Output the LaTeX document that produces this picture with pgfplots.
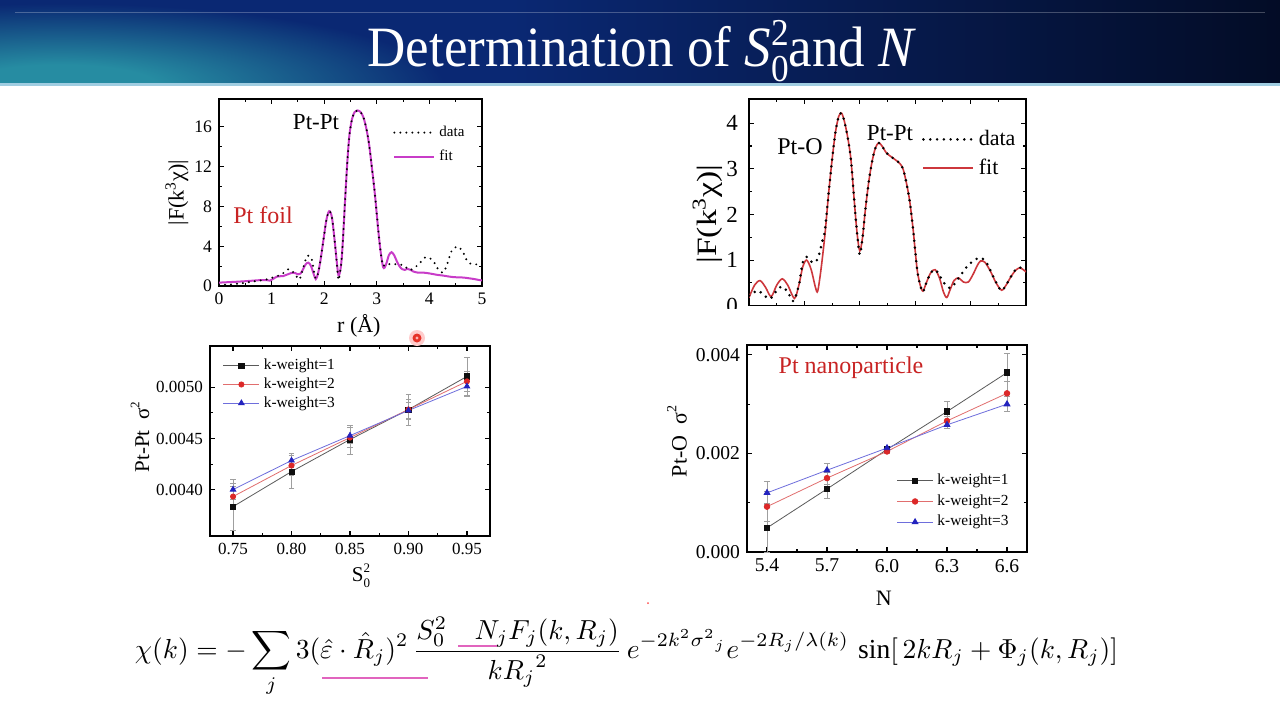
\documentclass[border=0pt]{standalone}
\usepackage{fontspec}
\setmainfont{Liberation Serif}
\usepackage{graphicx}
\usepackage{pgfplots}
\pgfplotsset{compat=1.18}
\definecolor{fitmag}{RGB}{200,60,200}
\definecolor{fitred}{RGB}{205,55,60}
\definecolor{labred}{RGB}{200,35,35}
\definecolor{kblack}{RGB}{15,15,15}
\definecolor{kred}{RGB}{220,40,40}
\definecolor{kblue}{RGB}{35,35,190}
\definecolor{lblack}{RGB}{90,90,90}
\definecolor{lred}{RGB}{225,110,110}
\definecolor{lblue}{RGB}{110,110,220}
\definecolor{pinkline}{RGB}{225,100,190}
\definecolor{bnM}{RGB}{10,40,115}
\definecolor{bnR}{RGB}{3,12,38}
\definecolor{bnTeal}{RGB}{38,140,162}
\definecolor{bnEdge}{RGB}{160,205,225}
\definecolor{ptr}{RGB}{230,50,40}
\pgfdeclarehorizontalshading{bannershade}{100bp}{color(0bp)=(bnM); color(45bp)=(bnM); color(75bp)=(bnR); color(100bp)=(bnR)}
\pgfdeclareradialshading{tealglow}{\pgfpoint{0bp}{0bp}}{color(0bp)=(bnTeal); color(6bp)=(bnTeal); color(24bp)=(bnM); color(50bp)=(bnM)}
\newcommand{\fs}[2]{\fontsize{#1pt}{#2pt}\selectfont}
\pgfplotsset{
  slideaxis/.style={scale only axis, anchor=south west,
    axis line style={line width=0.7pt}, tick align=inside,
    tick style={line width=0.55pt, black}, major tick length=2.4pt, minor tick length=1.4pt,
    tick pos=both, scaled ticks=false, legend cell align=left},
  kleg/.style={legend image code/.code={\draw[mark repeat=2,mark phase=2,##1] plot coordinates {(0pt,0pt) (9pt,0pt) (18pt,0pt)};}},
  errst/.style={error bars/.cd, y dir=both, y explicit,
    error bar style={color=gray!75, line width=0.4pt},
    error mark options={rotate=90, mark size=1.3pt, gray!75, line width=0.4pt}}
}
\begin{document}
\begin{tikzpicture}
\useasboundingbox (0pt,0pt) rectangle (640pt,-360pt);
\begin{scope}[x=0.5pt,y=-0.5pt]
\fill[white] (0,0) rectangle (1280,720);
\shade[shading=bannershade] (0,0) rectangle (1280,85);
\begin{scope}
\clip (0,0) rectangle (1280,85);
\shade[shading=tealglow] (-340,0) rectangle (460,170);
\end{scope}
\draw[white, opacity=0.25, line width=0.4pt] (15,12) -- (1265,12);
\fill[bnEdge] (0,83) rectangle (1280,86);
\node[white, anchor=base, inner sep=0pt, font=\fs{28.5}{30}] at (642,66)
  {\scalebox{0.93}[1]{Determination of \textit{S}\rlap{\raisebox{0.78ex}{\fs{19}{19}2}}\raisebox{-0.6ex}{\fs{19}{19}0}and \textit{N}}};
\end{scope}

% ---------- top left: Pt foil ----------
\begin{axis}[slideaxis, at={(109.5pt,-143pt)}, width=131.5pt, height=93.5pt,
  xmin=0, xmax=5, ymin=0, ymax=18.8,
  xtick={0,1,2,3,4,5}, xticklabels={0,1,2,3,4,5},
  ytick={0,4,8,12,16}, yticklabels={0,4,8,12,16},
  minor x tick num=1, minor y tick num=1,
  ticklabel style={font=\fs{8.8}{10}},
  xlabel={r (Å)}, ylabel={|F(k\textsuperscript{3}χ)|},
  label style={font=\fs{11}{12}},
  xlabel style={at={(axis description cs:0.532,-0.214)}, anchor=center},
  ylabel style={at={(axis description cs:-0.16,0.5)}, anchor=center},
  legend style={at={(0.95,0.88)}, anchor=north east, draw=none, fill=none,
    font=\fs{7.5}{8}, row sep=1.5pt, inner sep=0pt},
  legend image code/.code={\draw[#1] (0pt,0pt) -- (20pt,0pt);}]
\addplot[fitmag, line width=1pt, smooth, forget plot] coordinates {
(0.00,0.34) (0.15,0.38) (0.30,0.42) (0.46,0.47) (0.60,0.52) (0.75,0.58) (0.90,0.60) (0.97,0.54)
(1.03,0.72) (1.10,0.94) (1.16,0.98) (1.22,1.00) (1.27,1.10) (1.32,1.20) (1.37,1.30) (1.41,1.34)
(1.46,1.28) (1.50,1.17) (1.55,1.25) (1.60,1.70) (1.65,2.20) (1.70,2.35) (1.75,2.00) (1.80,1.20)
(1.84,0.70) (1.88,1.20) (1.93,2.60) (1.99,4.80) (2.04,6.60) (2.08,7.40) (2.11,7.50) (2.15,6.80)
(2.20,4.50) (2.24,2.40) (2.27,1.10) (2.30,1.40) (2.33,2.60) (2.36,5.00) (2.40,8.90) (2.44,12.50)
(2.48,15.20) (2.53,16.80) (2.58,17.50) (2.63,17.65) (2.69,17.50) (2.75,16.90) (2.81,15.60)
(2.86,14.00) (2.90,12.20) (2.94,10.40) (2.97,8.90) (3.00,7.20) (3.03,5.50) (3.06,4.00) (3.09,2.80)
(3.12,1.90) (3.15,1.85) (3.19,2.40) (3.23,3.10) (3.28,3.40) (3.33,3.10) (3.38,2.50) (3.43,2.00)
(3.48,1.70) (3.53,1.62) (3.58,1.72) (3.63,1.65) (3.70,1.45) (3.79,1.34) (3.88,1.35) (3.96,1.30)
(4.05,1.22) (4.15,1.12) (4.26,1.05) (4.35,0.97) (4.45,0.90) (4.55,0.87) (4.65,0.85) (4.75,0.78)
(4.85,0.70) (4.95,0.60) (5.00,0.56)};
\addplot[black, line width=1.1pt, dash pattern=on 0pt off 3pt, line cap=round, smooth] coordinates {
(0.00,0.10) (0.20,0.15) (0.46,0.30) (0.70,0.50) (0.90,0.65) (1.05,0.90) (1.16,1.10) (1.25,1.40)
(1.32,1.70) (1.40,1.45) (1.47,1.00) (1.53,0.67) (1.60,1.80) (1.67,3.00) (1.72,2.95) (1.76,2.80)
(1.80,1.60) (1.84,0.75) (1.88,1.20) (1.93,2.60) (1.99,4.80) (2.04,6.60) (2.08,7.40) (2.11,7.50)
(2.15,6.80) (2.20,4.50) (2.24,2.20) (2.27,0.60) (2.30,1.30) (2.33,2.60) (2.36,5.00) (2.40,8.90)
(2.44,12.50) (2.48,15.20) (2.53,16.80) (2.58,17.50) (2.63,17.65) (2.69,17.50) (2.75,16.90)
(2.81,15.60) (2.86,14.00) (2.90,12.20) (2.94,10.40) (2.97,8.90) (3.00,7.20) (3.03,5.50)
(3.06,4.00) (3.09,2.80) (3.12,2.00) (3.16,2.20) (3.25,2.20) (3.34,2.20) (3.42,2.15) (3.50,2.10)
(3.56,1.85) (3.63,1.60) (3.70,1.80) (3.78,2.10) (3.85,2.50) (3.91,2.85) (3.98,2.85) (4.04,2.70)
(4.10,2.30) (4.14,1.90) (4.20,1.50) (4.26,1.35) (4.30,1.70) (4.35,2.40) (4.42,3.50) (4.50,3.90)
(4.55,3.96) (4.60,3.70) (4.66,3.20) (4.72,2.50) (4.78,2.25) (4.87,2.20) (4.95,2.10) (5.00,2.05)};
\addlegendentry{data}
\addlegendimage{draw=fitmag, line width=1pt}
\addlegendentry{fit}
\end{axis}

% ---------- top right: Pt nanoparticle FT ----------
\begin{axis}[slideaxis, at={(374.5pt,-152.85pt)}, width=138.5pt, height=103.35pt,
  xmin=0, xmax=5, ymin=0, ymax=4.53,
  xtick={0,1,2,3,4,5}, xticklabels={},
  ytick={0,1,2,3,4}, yticklabels={0,1,2,3,4},
  minor x tick num=1, minor y tick num=1,
  ticklabel style={font=\fs{11.5}{12}}, yticklabel style={xshift=-2pt},
  ylabel={\scalebox{1.2}[1]{|F(k\textsuperscript{3}χ)|}},
  ylabel style={font=\fs{14}{14}, at={(axis description cs:-0.15,0.444)}, anchor=center},
  legend style={at={(0.978,0.87)}, anchor=north east, draw=none, fill=none,
    font=\fs{11}{12}, row sep=1pt, inner sep=0pt},
  legend image code/.code={\draw[#1] (0pt,0pt) -- (25pt,0pt);}]
\addplot[fitred, line width=0.8pt, smooth, forget plot] coordinates {
(0.00,0.18) (0.10,0.45) (0.20,0.55) (0.30,0.40) (0.40,0.20) (0.50,0.45) (0.60,0.59) (0.70,0.45)
(0.82,0.16) (0.90,0.45) (0.97,0.85) (1.04,1.00) (1.12,0.80) (1.20,0.40) (1.24,0.32) (1.30,0.80)
(1.37,1.55) (1.44,2.50) (1.50,3.20) (1.56,3.80) (1.62,4.15) (1.67,4.22) (1.72,4.05) (1.78,3.70)
(1.84,3.20) (1.90,2.30) (1.95,1.60) (2.00,1.20) (2.05,1.50) (2.10,2.10) (2.16,2.70) (2.22,3.15)
(2.28,3.45) (2.34,3.57) (2.40,3.50) (2.48,3.35) (2.56,3.27) (2.64,3.20) (2.72,3.12) (2.78,3.00)
(2.84,2.70) (2.90,2.30) (2.96,1.70) (3.00,1.20) (3.04,0.75) (3.09,0.45) (3.14,0.32) (3.20,0.50)
(3.28,0.72) (3.36,0.79) (3.44,0.60) (3.51,0.30) (3.57,0.18) (3.63,0.35) (3.70,0.55) (3.78,0.61)
(3.87,0.52) (3.96,0.52) (4.05,0.70) (4.12,0.88) (4.18,0.98) (4.26,0.95) (4.36,0.75) (4.46,0.50)
(4.56,0.34) (4.64,0.45) (4.72,0.62) (4.80,0.76) (4.88,0.83) (4.95,0.79) (5.00,0.74)};
\addplot[black, line width=1.4pt, dash pattern=on 0pt off 3.4pt, line cap=round, smooth] coordinates {
(0.00,0.22) (0.10,0.30) (0.17,0.33) (0.28,0.22) (0.38,0.15) (0.48,0.30) (0.59,0.42) (0.70,0.30)
(0.80,0.10) (0.90,0.45) (0.97,0.95) (1.04,1.07) (1.12,0.97) (1.20,0.95) (1.26,1.10) (1.32,1.40)
(1.37,1.65) (1.44,2.50) (1.50,3.20) (1.56,3.80) (1.62,4.15) (1.67,4.22) (1.72,4.05) (1.78,3.70)
(1.84,3.20) (1.90,2.30) (1.95,1.60) (2.00,1.12) (2.05,1.50) (2.10,2.10) (2.16,2.70) (2.22,3.15)
(2.28,3.45) (2.34,3.57) (2.40,3.50) (2.48,3.35) (2.56,3.27) (2.64,3.20) (2.72,3.12) (2.78,3.00)
(2.84,2.70) (2.90,2.30) (2.96,1.70) (3.00,1.20) (3.04,0.75) (3.09,0.45) (3.14,0.30) (3.20,0.50)
(3.28,0.72) (3.36,0.79) (3.44,0.66) (3.52,0.50) (3.60,0.40) (3.66,0.40) (3.75,0.55) (3.85,0.72)
(3.95,0.88) (4.05,0.98) (4.15,1.05) (4.22,1.03) (4.30,0.92) (4.40,0.66) (4.50,0.42) (4.56,0.33)
(4.64,0.45) (4.72,0.62) (4.80,0.77) (4.88,0.84) (4.95,0.80) (5.00,0.76)};
\addlegendentry{data}
\addlegendimage{draw=fitred, line width=0.8pt}
\addlegendentry{fit}
\end{axis}

% cover the cropped bottom of the top-right panel
\fill[white] (345pt,-154.5pt) rectangle (520pt,-168pt);

% ---------- bottom left ----------
\begin{axis}[slideaxis, kleg, at={(105pt,-268pt)}, width=140pt, height=95pt,
  xmin=0.7303, xmax=0.9697, ymin=0.003551, ymax=0.0054,
  xtick={0.75,0.8,0.85,0.9,0.95}, xticklabels={0.75,0.80,0.85,0.90,0.95},
  ytick={0.004,0.0045,0.005}, yticklabels={0.0040,0.0045,0.0050},
  minor x tick num=1, minor y tick num=1,
  ticklabel style={font=\fs{8.5}{9}},
  xlabel={S\rlap{\raisebox{0.85ex}{\fs{6.5}{7}2}}\raisebox{-0.65ex}{\fs{6.5}{7}0}},
  ylabel={Pt-Pt\ \ σ\raisebox{1ex}{\fs{6.5}{7}2}},
  label style={font=\fs{10.5}{11}},
  xlabel style={at={(axis description cs:0.539,-0.21)}, anchor=center},
  ylabel style={at={(axis description cs:-0.25,0.52)}, anchor=center},
  legend style={at={(0.045,0.955)}, anchor=north west, draw=none, fill=none,
    font=\fs{7.7}{8}, row sep=-1.5pt, inner sep=0pt}]
\addplot[lblack, line width=0.4pt, mark=square*, mark size=1.3pt,
  mark options={solid, fill=kblack, draw=kblack}, errst] coordinates {
(0.75,0.003837) +- (0,0.00023) (0.80,0.004178) +- (0,0.00016) (0.85,0.00449) +- (0,0.00014)
(0.90,0.004782) +- (0,0.00015) (0.95,0.005104) +- (0,0.00019)};
\addlegendentry{k-weight=1}
\addplot[lred, line width=0.4pt, mark=*, mark size=1.3pt,
  mark options={solid, fill=kred, draw=kred}, errst] coordinates {
(0.75,0.003935) +- (0,0.0001) (0.80,0.004237) +- (0,0.0001) (0.85,0.004509) +- (0,0.0001)
(0.90,0.004782) +- (0,0.0001) (0.95,0.005056) +- (0,0.0001)};
\addlegendentry{k-weight=2}
\addplot[lblue, line width=0.4pt, mark=triangle*, mark size=1.6pt,
  mark options={solid, fill=kblue, draw=kblue}, errst] coordinates {
(0.75,0.004003) +- (0,0.0001) (0.80,0.004286) +- (0,0.00007) (0.85,0.004528) +- (0,0.00008)
(0.90,0.004773) +- (0,0.00008) (0.95,0.005007) +- (0,0.00009)};
\addlegendentry{k-weight=3}
\end{axis}

% ---------- bottom right ----------
\begin{axis}[slideaxis, kleg, at={(373.5pt,-276pt)}, width=140pt, height=103.5pt,
  xmin=5.3, xmax=6.7, ymin=0, ymax=0.0042,
  xtick={5.4,5.7,6.0,6.3,6.6}, xticklabels={5.4,5.7,6.0,6.3,6.6},
  ytick={0,0.002,0.004}, yticklabels={0.000,0.002,0.004},
  minor x tick num=1, minor y tick num=1,
  ticklabel style={font=\fs{9.8}{10}},
  xlabel={N}, ylabel={Pt-O\ \ σ\raisebox{1ex}{\fs{7}{7}2}},
  label style={font=\fs{11}{12}},
  xlabel style={at={(axis description cs:0.489,-0.222)}, anchor=center},
  ylabel style={at={(axis description cs:-0.25,0.534)}, anchor=center},
  legend style={at={(0.95,0.09)}, anchor=south east, draw=none, fill=none,
    font=\fs{7.7}{8}, row sep=-0.5pt, inner sep=0pt}]
\addplot[lblack, line width=0.4pt, mark=square*, mark size=1.4pt,
  mark options={solid, fill=kblack, draw=kblack}, errst] coordinates {
(5.4,0.00049) +- (0,0.0005) (5.7,0.00128) +- (0,0.0002) (6.0,0.00208) +- (0,0.00004)
(6.3,0.00285) +- (0,0.0002) (6.6,0.00364) +- (0,0.0004)};
\addlegendentry{k-weight=1}
\addplot[lred, line width=0.4pt, mark=*, mark size=1.4pt,
  mark options={solid, fill=kred, draw=kred}, errst] coordinates {
(5.4,0.00092) +- (0,0.0003) (5.7,0.0015) +- (0,0.00012) (6.0,0.00204) +- (0,0.00004)
(6.3,0.00266) +- (0,0.0001) (6.6,0.00322) +- (0,0.00024)};
\addlegendentry{k-weight=2}
\addplot[lblue, line width=0.4pt, mark=triangle*, mark size=1.7pt,
  mark options={solid, fill=kblue, draw=kblue}, errst] coordinates {
(5.4,0.0012) +- (0,0.00023) (5.7,0.00166) +- (0,0.00014) (6.0,0.00211) +- (0,0.00004)
(6.3,0.00258) +- (0,0.00008) (6.6,0.003) +- (0,0.00015)};
\addlegendentry{k-weight=3}
\end{axis}

\begin{scope}[x=0.5pt,y=-0.5pt]
\node[font=\fs{11.5}{12}] at (316,122) {Pt-Pt};
\node[font=\fs{12}{12}, text=labred] at (263,215) {Pt foil};
\node[font=\fs{12}{12}] at (800,147) {Pt-O};
\node[font=\fs{11.5}{12}] at (890,133) {Pt-Pt};
\node[font=\fs{12}{12}, text=labred] at (851,368) {Pt nanoparticle};
% laser pointer
\fill[red!20] (417,338) circle (8);
\fill[ptr] (417,338) circle (4.5);
\fill[red!30] (417,338) circle (1.6);
\fill[red!70] (648,603) circle (1);
% equation
\node[inner sep=0pt] at (626.5,657) {\resizebox{491.5pt}{!}{$\displaystyle
 \chi(k)=-\sum_j 3(\hat{\varepsilon}\cdot\hat{R}_j)^2\,\frac{S_0^2\quad N_jF_j(k,R_j)}{k{R_j}^{2}}\,e^{-2k^2\sigma^2{}_j}e^{-2R_j/\lambda(k)}\,\sin[\,2kR_j+\Phi_j(k,R_j)]$}};
\draw[pinkline, line width=1pt] (322,678) -- (428,678);
\draw[pinkline, line width=1pt] (458,646) -- (497,646);
\end{scope}
\end{tikzpicture}
\end{document}
